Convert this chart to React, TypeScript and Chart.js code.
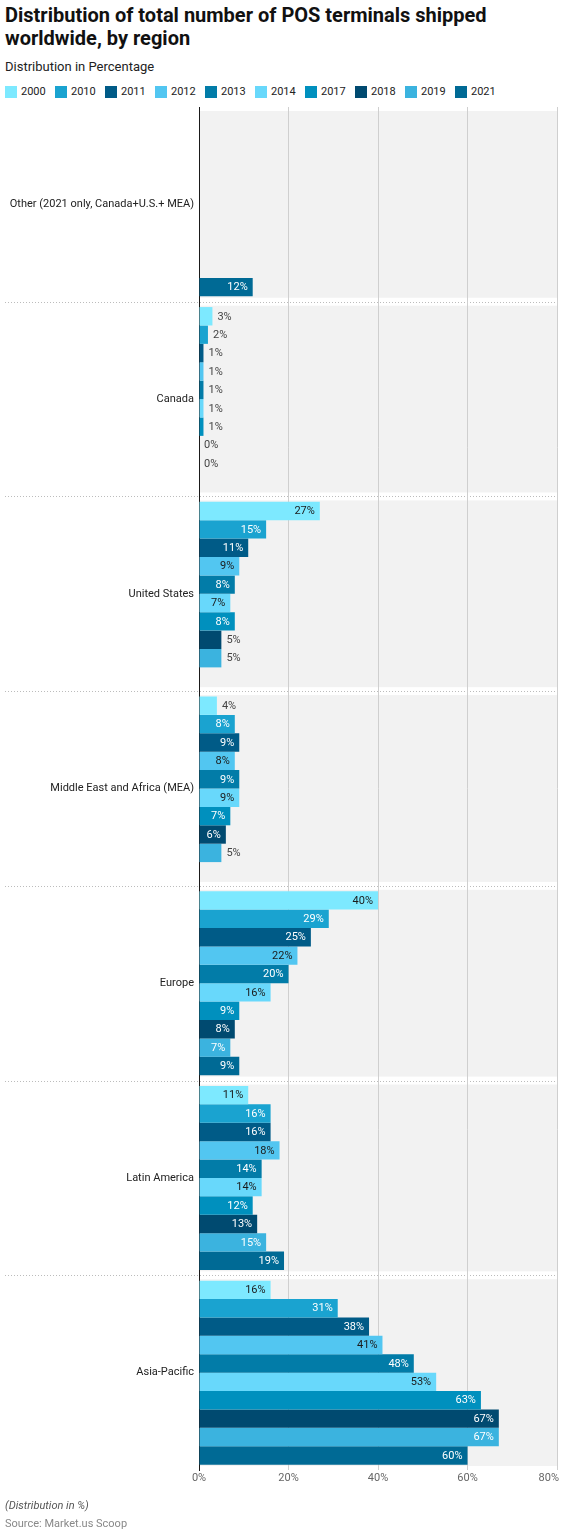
import React, { useEffect, useRef } from "react";
import { Chart, registerables } from "chart.js";

Chart.register(...registerables);

// Regions shown on the category axis, top to bottom
const regions = [
  "Other (2021 only, Canada+U.S.+ MEA)",
  "Canada",
  "United States",
  "Middle East and Africa (MEA)",
  "Europe",
  "Latin America",
  "Asia-Pacific",
];

const years = ["2000", "2010", "2011", "2012", "2013", "2014", "2017", "2018", "2019", "2021"];

// Share of shipped POS terminals (%) per region, one array per year
const share2000 = [null, 3, 27, 4, 40, 11, 16];
const share2010 = [null, 2, 15, 8, 29, 16, 31];
const share2011 = [null, 1, 11, 9, 25, 16, 38];
const share2012 = [null, 1, 9, 8, 22, 18, 41];
const share2013 = [null, 1, 8, 9, 20, 14, 48];
const share2014 = [null, 1, 7, 9, 16, 14, 53];
const share2017 = [null, 1, 8, 7, 9, 12, 63];
const share2018 = [null, 0, 5, 6, 8, 13, 67];
const share2019 = [null, 0, 5, 5, 7, 15, 67];
const share2021 = [12, null, null, null, 9, 19, 60];

const seriesByYear = [
  share2000, share2010, share2011, share2012, share2013,
  share2014, share2017, share2018, share2019, share2021,
];

const yearColors = [
  "#7de9ff", "#1aa3d0", "#005b87", "#52c6f1", "#027ca8",
  "#68d8fb", "#0090be", "#004a70", "#3bb3df", "#006a95",
];

// Light bars carry dark value labels
const darkLabelYears = ["2000", "2012", "2014"];

const xTickValues = [0, 20, 40, 60, 80];

const FONT = "Roboto, 'Noto Sans', sans-serif";

// Grey band behind every region, with dotted separators between regions
const bandsPlugin = {
  id: "regionBands",
  beforeDraw(chart: any) {
    const { ctx, chartArea: a } = chart;
    const n = regions.length;
    const h = (a.bottom - a.top) / n;
    ctx.save();
    ctx.fillStyle = "#f2f2f2";
    for (let i = 0; i < n; i++) {
      ctx.fillRect(a.left, a.top + i * h + 4, a.right - a.left, h - 8);
    }
    ctx.strokeStyle = "#bcbcbc";
    ctx.lineWidth = 1;
    ctx.setLineDash([1, 2]);
    for (let i = 1; i < n; i++) {
      const y = Math.round(a.top + i * h) + 0.5;
      ctx.beginPath();
      ctx.moveTo(5, y);
      ctx.lineTo(a.right, y);
      ctx.stroke();
    }
    ctx.restore();
  },
};

// Percentage labels at the end of each bar: inside when it fits, otherwise outside
const valueLabelPlugin = {
  id: "valueLabels",
  afterDatasetsDraw(chart: any) {
    const { ctx } = chart;
    ctx.save();
    ctx.font = `11px ${FONT}`;
    ctx.textBaseline = "middle";
    chart.data.datasets.forEach((ds: any, di: number) => {
      const meta = chart.getDatasetMeta(di);
      if (meta.hidden) return;
      meta.data.forEach((bar: any, i: number) => {
        const v = ds.data[i];
        if (v === null || v === undefined) return;
        const text = `${v}%`;
        const w = ctx.measureText(text).width;
        const { x, y, base } = bar.getProps(["x", "y", "base"], true);
        if (x - base >= w + 11) {
          ctx.textAlign = "right";
          ctx.fillStyle = darkLabelYears.includes(years[di]) ? "#1b1b1b" : "#ffffff";
          ctx.fillText(text, x - 5, y + 0.5);
        } else {
          ctx.textAlign = "left";
          ctx.fillStyle = "#444444";
          ctx.fillText(text, x + 5, y + 0.5);
        }
      });
    });
    ctx.restore();
  },
};

// Value-axis tick labels, kept inside the canvas at the right end
const xTickLabelPlugin = {
  id: "xTickLabels",
  afterDraw(chart: any) {
    const { ctx, chartArea: a } = chart;
    const scale = chart.scales.x;
    ctx.save();
    ctx.font = `11px ${FONT}`;
    ctx.textBaseline = "middle";
    ctx.fillStyle = "#666666";
    ctx.textAlign = "right";
    xTickValues.forEach((v) => {
      const text = `${v}%`;
      const w = ctx.measureText(text).width;
      const px = scale.getPixelForValue(v);
      const right = Math.min(px + w / 2, chart.width - 3);
      ctx.fillText(text, right, a.bottom + 8);
    });
    ctx.restore();
  },
};

function PosShareChart() {
  const ref = useRef<HTMLCanvasElement | null>(null);

  useEffect(() => {
    if (!ref.current) return;
    const chart = new Chart(ref.current, {
      type: "bar",
      data: {
        labels: regions,
        datasets: years.map((yr, i) => ({
          label: yr,
          data: seriesByYear[i],
          backgroundColor: yearColors[i],
          borderWidth: 0,
          barPercentage: 1,
          categoryPercentage: 0.945,
        })),
      },
      options: {
        indexAxis: "y",
        animation: false,
        responsive: false,
        devicePixelRatio: 1,
        layout: { padding: { top: 7, right: 5, bottom: 30, left: 0 } },
        plugins: {
          legend: { display: false },
          title: { display: false },
          tooltip: { enabled: false },
        },
        scales: {
          x: {
            min: 0,
            max: 80,
            ticks: { stepSize: 20, display: false },
            grid: {
              drawTicks: false,
              color: (c: any) => (c.tick && c.tick.value === 0 ? "rgba(0,0,0,0)" : "#cfcfcf"),
              lineWidth: 1,
            },
            border: { display: false },
            afterFit: (s: any) => {
              s.height = 0;
              s.paddingLeft = 0;
              s.paddingRight = 0;
            },
          },
          y: {
            grid: { display: false, drawTicks: false },
            border: { display: true, color: "#1a1a1a", width: 1 },
            ticks: {
              padding: 5,
              color: "#222222",
              font: { family: FONT, size: 11 },
            },
            afterFit: (s: any) => {
              s.width = 199;
              s.paddingTop = 0;
              s.paddingBottom = 0;
            },
          },
        },
      },
      plugins: [bandsPlugin, valueLabelPlugin, xTickLabelPlugin],
    } as any);
    return () => chart.destroy();
  }, []);

  return (
    <canvas
      ref={ref}
      width={562}
      height={1400}
      style={{ position: "absolute", top: 100, left: 0, width: 562, height: 1400 }}
    />
  );
}

export default function App() {
  return (
    <div
      style={{
        position: "absolute",
        top: 0,
        left: 0,
        width: 562,
        height: 1536,
        background: "#ffffff",
        fontFamily: FONT,
        overflow: "hidden",
      }}
    >
      <div
        style={{
          position: "absolute",
          top: 4,
          left: 5,
          fontSize: 20,
          lineHeight: "23px",
          fontWeight: 700,
          color: "#111111",
          whiteSpace: "nowrap",
        }}
      >
        <div>Distribution of total number of POS terminals shipped</div>
        <div>worldwide, by region</div>
      </div>
      <div
        style={{
          position: "absolute",
          top: 59,
          left: 5,
          fontSize: 13,
          lineHeight: "16px",
          color: "#222222",
        }}
      >
        Distribution in Percentage
      </div>
      <div
        style={{
          position: "absolute",
          top: 85,
          left: 5,
          display: "flex",
          alignItems: "center",
          height: 14,
        }}
      >
        {years.map((yr, i) => (
          <div key={yr} style={{ display: "flex", alignItems: "center", width: 50 }}>
            <span
              style={{
                display: "inline-block",
                width: 12,
                height: 12,
                background: yearColors[i],
                marginRight: 4,
              }}
            />
            <span style={{ fontSize: 11, color: "#222222", lineHeight: "14px" }}>{yr}</span>
          </div>
        ))}
      </div>
      <PosShareChart />
      <div
        style={{
          position: "absolute",
          top: 1499,
          left: 5,
          fontSize: 11,
          lineHeight: "14px",
          fontStyle: "italic",
          color: "#555555",
        }}
      >
        (Distribution in %)
      </div>
      <div
        style={{
          position: "absolute",
          top: 1517,
          left: 5,
          fontSize: 11,
          lineHeight: "14px",
          color: "#888888",
        }}
      >
        Source: Market.us Scoop
      </div>
    </div>
  );
}
